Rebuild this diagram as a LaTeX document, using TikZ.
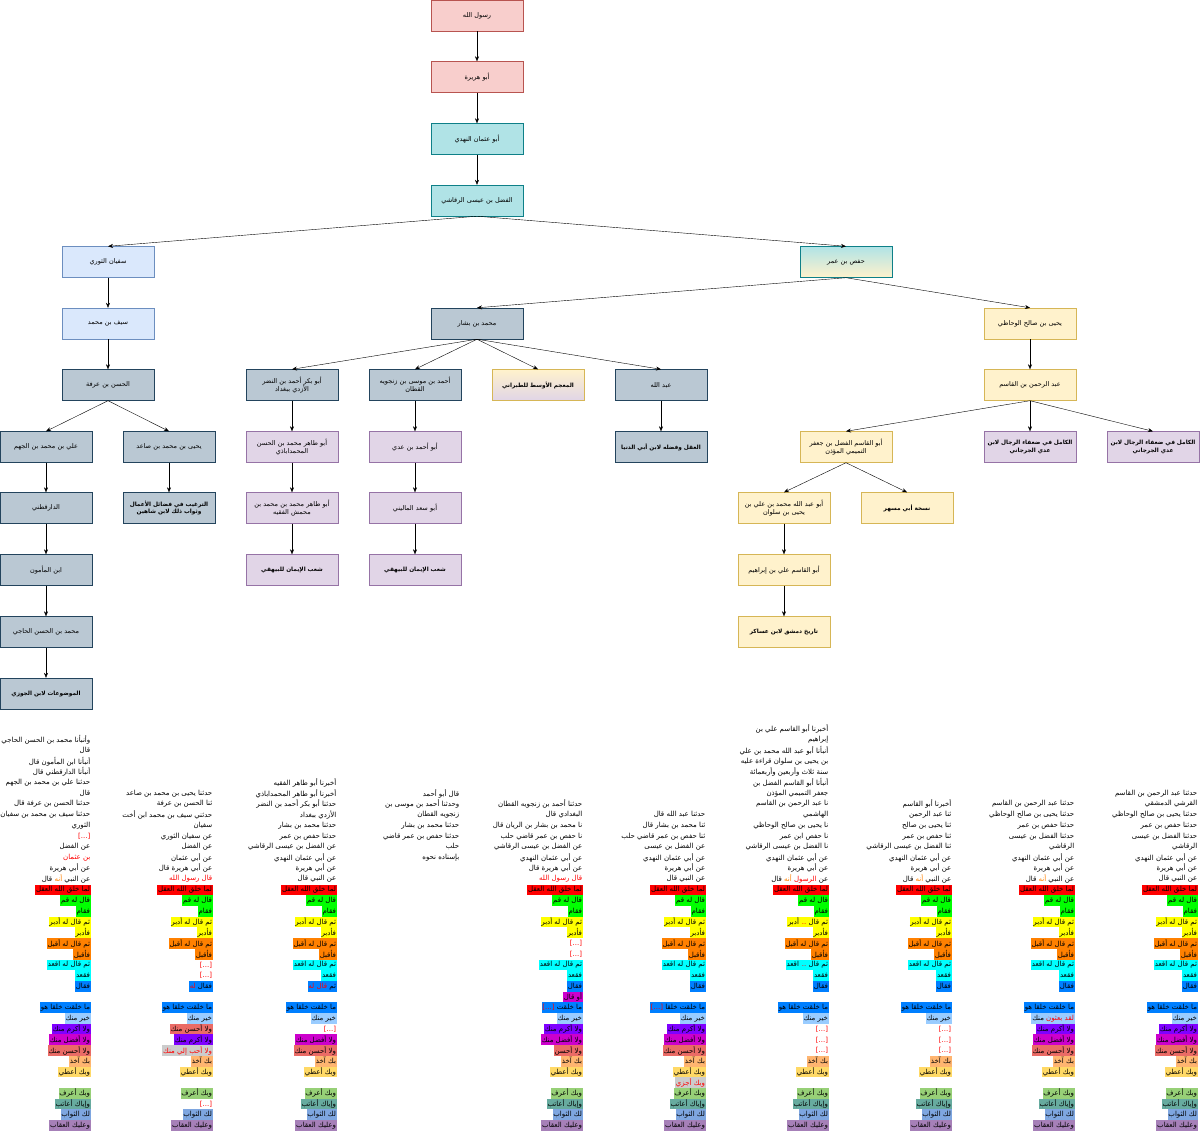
\documentclass[tikz,border=0pt]{standalone}
\usepackage{fontspec}
\usetikzlibrary{arrows.meta}
\newfontfamily\arab[Script=Arabic]{DejaVu Sans}
\TeXXeTstate=1
\newcommand{\ar}[1]{\beginR#1\endR}
\newcommand{\rd}[1]{{\addfontfeature{Color=FF0000}#1}}
\newcommand{\og}[1]{{\addfontfeature{Color=FF8000}#1}}
\newcommand{\brk}{\rd{[...]}}
\definecolor{pinkf}{HTML}{F8CECC}\definecolor{pinkd}{HTML}{B85450}
\definecolor{tealf}{HTML}{B0E3E6}\definecolor{teald}{HTML}{0E8088}
\definecolor{bluef}{HTML}{DAE8FC}\definecolor{blued}{HTML}{6C8EBF}
\definecolor{grayf}{HTML}{BAC8D3}\definecolor{grayd}{HTML}{23445D}
\definecolor{yelf}{HTML}{FFF2CC}\definecolor{yeld}{HTML}{D6B656}
\definecolor{purf}{HTML}{E1D5E7}\definecolor{purd}{HTML}{9673A6}
\definecolor{hred}{HTML}{FF0000}\definecolor{hgreen}{HTML}{00FF00}
\definecolor{hyellow}{HTML}{FFFF00}\definecolor{horange}{HTML}{FF8000}
\definecolor{hcyan}{HTML}{00FFFF}\definecolor{hblue}{HTML}{007FFF}
\definecolor{hlblue}{HTML}{99CCFF}\definecolor{hpurple}{HTML}{7F00FF}
\definecolor{hmag}{HTML}{CC00CC}\definecolor{hsalmon}{HTML}{EA6B66}
\definecolor{hlorange}{HTML}{FFB570}\definecolor{hlyellow}{HTML}{FFD966}
\definecolor{hlgreen}{HTML}{97D077}\definecolor{hteal}{HTML}{67AB9F}
\definecolor{hsteel}{HTML}{7EA6E0}\definecolor{hlilac}{HTML}{A680B8}
\definecolor{hgray}{HTML}{CCCCCC}
\tikzset{
  box/.style={draw=#1d,fill=#1f,minimum width=92pt,minimum height=31pt,text width=90pt,align=center,inner sep=1pt,font=\fontsize{6.5}{7.5}\arab},
  book/.style={box=#1,font=\fontsize{5.8}{7.5}\arab\bfseries},
  link/.style={-{Stealth[length=5pt,width=4pt]},black},
  isn/.style={anchor=east,inner sep=0.5pt,font=\fontsize{7}{8}\arab},
  hl/.style={anchor=east,fill=#1,inner xsep=0.8pt,inner ysep=0pt,minimum height=10.7pt,font=\fontsize{7}{8}\arab}
}
\foreach \r in {0,...,22,99}{\expandafter\xdef\csname sk\r\endcsname{0}}
\def\stdmatn{0/hred/لما خلق الله العقل,1/hgreen/قال له قم,2/hgreen/فقام,3/hyellow/ثم قال له أدبر,4/hyellow/فأدبر,5/horange/ثم قال له أقبل,6/horange/فأقبل,7/hcyan/ثم قال له اقعد,8/hcyan/فقعد,9/hblue/فقال,11/hblue/ما خلقت خلقا هو,12/hlblue/خير منك,13/hpurple/ولا أكرم منك,14/hmag/ولا أفضل منك,15/hsalmon/ولا أحسن منك,16/hlorange/بك آخذ,17/hlyellow/وبك أعطي,19/hlgreen/وبك أعرف,20/hteal/وإياك أعاتب,21/hsteel/لك الثواب,22/hlilac/وعليك العقاب}
% standard text of the hadith, skipping the rows given in #2
\newcommand{\matn}[2]{
  \foreach \r in {#2}{\expandafter\xdef\csname sk\r\endcsname{1}}
  \foreach \r/\c/\t in \stdmatn{
    \ifnum\csname sk\r\endcsname=0 \node[hl=\c] at (#1,{890+\r*10.7}) {\ar{\t}};\fi}
  \foreach \r in {#2}{\expandafter\xdef\csname sk\r\endcsname{0}}
}
% chain of narrators above the text, #2 lines, last one ending at y=#3
\newcommand{\isnad}[4]{
  \foreach \t [count=\i] in {#4}
    \node[isn] at (#1,{#3-(#2-\i)*10.7}) {\ar{\t}};
}
\newcommand{\row}[3]{\node[hl=#2] at (#1) {\ar{#3}};}
\begin{document}
\begin{tikzpicture}[x=1pt,y=-1pt]
\useasboundingbox (0,0) rectangle (1200,1144);
% tree of narrators
\node[box=pink] (rasul) at (477,15.5) {\ar{رسول الله}};
\node[box=pink] (hurayra) at (477,77) {\ar{أبو هريرة}};
\node[box=teal] (uthman) at (477,139) {\ar{أبو عثمان النهدي}};
\node[box=teal] (fadl) at (477,200.5) {\ar{الفضل بن عيسى الرقاشي}};
\node[box=blue] (sufyan) at (108,262) {\ar{سفيان الثوري}};
\node[box=teal,top color=tealf,bottom color=yelf] (hafs) at (846,262) {\ar{حفص بن عمر}};
\node[box=blue] (sayf) at (108,323.5) {\ar{سيف بن محمد}};
\node[box=gray] (bashar) at (477,323.5) {\ar{محمد بن بشار}};
\node[box=yel] (wuhazi) at (1030,323.5) {\ar{يحيى بن صالح الوحاظي}};
\node[box=gray] (arafa) at (108,385) {\ar{الحسن بن عرفة}};
\node[box=gray] (abubakr) at (292,385) {\ar{أبو بكر أحمد بن النضر}\\\ar{الأزدي ببغداد}};
\node[box=gray] (zanjawayh) at (415,385) {\ar{أحمد بن موسى بن زنجويه}\\\ar{القطان}};
\node[book=yel,top color=yelf,bottom color=purf] (muajam) at (538,385) {\ar{المعجم الأوسط للطبراني}};
\node[box=gray] (abdallah) at (661,385) {\ar{عبد الله}};
\node[box=yel] (qasim) at (1030,385) {\ar{عبد الرحمن بن القاسم}};
\node[box=gray] (jahm) at (46,447) {\ar{علي بن محمد بن الجهم}};
\node[box=gray] (saeid) at (169,447) {\ar{يحيى بن محمد بن صاعد}};
\node[box=pur] (tahira) at (292,447) {\ar{أبو طاهر محمد بن الحسن}\\\ar{المحمداباذي}};
\node[box=pur] (adi) at (415,447) {\ar{أبو أحمد بن عدي}};
\node[book=gray] (aql) at (661,447) {\ar{العقل وفضله لابن أبي الدنيا}};
\node[box=yel] (muadhdhin) at (846,447) {\ar{أبو القاسم الفضل بن جعفر}\\\ar{التميمي المؤذن}};
\node[book=pur] (kamila) at (1030,447) {\ar{الكامل في ضعفاء الرجال لابن}\\\ar{عدي الجرجاني}};
\node[book=pur] (kamilb) at (1153,447) {\ar{الكامل في ضعفاء الرجال لابن}\\\ar{عدي الجرجاني}};
\node[box=gray] (daraqutni) at (46,508) {\ar{الدارقطني}};
\node[book=gray] (targhib) at (169,508) {\ar{الترغيب في فضائل الأعمال}\\\ar{وثواب ذلك لابن شاهين}};
\node[box=pur] (tahirb) at (292,508) {\ar{أبو طاهر محمد بن محمد بن}\\\ar{محمش الفقيه}};
\node[box=pur] (malini) at (415,508) {\ar{أبو سعد الماليني}};
\node[box=yel] (salwan) at (784,508) {\ar{أبو عبد الله محمد بن علي بن}\\\ar{يحيى بن سلوان}};
\node[book=yel] (mushir) at (907,508) {\ar{نسخة أبي مسهر}};
\node[box=gray] (mamun) at (46,570) {\ar{ابن المأمون}};
\node[book=pur] (shuaba) at (292,570) {\ar{شعب الإيمان للبيهقي}};
\node[book=pur] (shuabb) at (415,570) {\ar{شعب الإيمان للبيهقي}};
\node[box=yel] (ibrahim) at (784,570) {\ar{أبو القاسم علي بن إبراهيم}};
\node[box=gray] (hajji) at (46,632) {\ar{محمد بن الحسن الحاجي}};
\node[book=yel] (tarikh) at (784,632) {\ar{تاريخ دمشق لابن عساكر}};
\node[book=gray] (mawduat) at (46,693.5) {\ar{الموضوعات لابن الجوزي}};
\foreach \a/\b in {rasul/hurayra,hurayra/uthman,uthman/fadl,fadl/sufyan,fadl/hafs,
  sufyan/sayf,sayf/arafa,arafa/jahm,arafa/saeid,jahm/daraqutni,daraqutni/mamun,
  mamun/hajji,hajji/mawduat,saeid/targhib,hafs/bashar,hafs/wuhazi,bashar/abubakr,
  bashar/zanjawayh,bashar/muajam,bashar/abdallah,abubakr/tahira,tahira/tahirb,
  tahirb/shuaba,zanjawayh/adi,adi/malini,malini/shuabb,abdallah/aql,wuhazi/qasim,
  qasim/muadhdhin,qasim/kamila,qasim/kamilb,muadhdhin/salwan,muadhdhin/mushir,
  salwan/ibrahim,ibrahim/tarikh}
  \draw[link] (\a.south) -- (\b.north);
% chains and texts
\isnad{91}{14}{879}{وأنبأنا محمد بن الحسن الحاجي,قال,أنبأنا ابن المأمون قال,أنبأنا الدارقطني قال,حدثنا علي بن محمد بن الجهم,قال,حدثنا الحسن بن عرفة قال,حدثنا سيف بن محمد بن سفيان,الثوري,\brk,عن الفضل,\rd{بن عثمان},عن أبي هريرة,عن النبي \og{أنه} قال}
\isnad{213}{9}{879}{حدثنا يحيى بن محمد بن صاعد,ثنا الحسن بن عرفة,حدثني سيف بن محمد ابن أخت,سفيان,عن سفيان الثوري,عن الفضل,عن أبي عثمان,عن أبي هريرة قال,\rd{قال رسول الله}}
\isnad{337}{10}{879}{أخبرنا أبو طاهر الفقيه,أخبرنا أبو طاهر المحمداباذي,حدثنا أبو بكر أحمد بن النضر,الأزدي ببغداد,حدثنا محمد بن بشار,حدثنا حفص بن عمر,عن الفضل بن عيسى الرقاشي,عن أبي عثمان النهدي,عن أبي هريرة,عن النبي قال}
\isnad{460}{7}{857.6}{قال أبو أحمد,وحدثنا أحمد بن موسى بن,زنجويه القطان,حدثنا محمد بن بشار,حدثنا حفص بن عمر قاضي,حلب,بإسناده نحوه}
\isnad{583}{8}{879}{حدثنا أحمد بن زنجويه القطان,البغدادي قال,نا محمد بن بشار بن الريان قال,نا حفص بن عمر قاضي حلب,عن الفضل بن عيسى الرقاشي,عن أبي عثمان النهدي,عن أبي هريرة قال,\rd{قال رسول الله}}
\isnad{706}{7}{879}{حدثنا عبد الله قال,ثنا محمد بن بشار قال,ثنا حفص بن عمر قاضي حلب,عن الفضل بن عيسى,عن أبي عثمان النهدي,عن أبي هريرة,عن النبي قال}
\isnad{829}{15}{879}{أخبرنا أبو القاسم علي بن,إبراهيم,أنبأنا أبو عبد الله محمد بن علي,بن يحيى بن سلوان قراءة عليه,سنة ثلاث وأربعين وأربعمائة,أنبأنا أبو القاسم الفضل بن,جعفر التميمي المؤذن,نا عبد الرحمن بن القاسم,الهاشمي,نا يحيى بن صالح الوحاظي,نا حفص ابن عمر,نا الفضل بن عيسى الرقاشي,عن أبي عثمان النهدي,عن أبي هريرة,عن \rd{الرسول} \og{أنه} قال}
\isnad{952}{8}{879}{أخبرنا أبو القاسم,ثنا عبد الرحمن,ثنا يحيى بن صالح,ثنا حفص بن عمر,ثنا الفضل بن عيسى الرقاشي,عن أبي عثمان النهدي,عن أبي هريرة,عن النبي \og{أنه} قال}
\isnad{1075}{8}{879}{حدثنا عبد الرحمن بن القاسم,حدثنا يحيى بن صالح الوحاظي,حدثنا حفص بن عمر,حدثنا الفضل بن عيسى,الرقاشي,عن أبي عثمان النهدي,عن أبي هريرة,عن النبي \og{أنه} قال}
\isnad{1198}{9}{879}{حدثنا عبد الرحمن بن القاسم,القرشي الدمشقي,حدثنا يحيى بن صالح الوحاظي,حدثنا حفص بن عمر,حدثنا الفضل بن عيسى,الرقاشي,عن أبي عثمان النهدي,عن أبي هريرة,عن النبي قال}
\matn{91}{99}
\matn{213}{7,8,9,13,14,15,20}
\row{213,964.9}{white}{\brk}\row{213,975.6}{white}{\brk}
\row{213,986.3}{hblue}{فقال \rd{له}}
\row{213,1029.1}{hsalmon}{ولا أحسن منك}\row{213,1039.8}{hpurple}{ولا أكرم منك}
\row{213,1050.5}{hgray}{\rd{ولا أحب إلي منك}}\row{213,1104}{white}{\brk}
\matn{337}{9,13}
\row{337,986.3}{hblue}{ثم \rd{قال له}}\row{337,1029.1}{white}{\brk}
\matn{583}{5,6,11,15}
\row{583,943.5}{white}{\brk}\row{583,954.2}{white}{\brk}
\row{583,997}{hmag}{أو قال}\row{583,1007.7}{hblue}{ما خلقت \brk}
\row{583,1050.5}{hsalmon}{ولا أحسن}
\matn{706}{11}
\row{706,1007.7}{hblue}{ما خلقت خلقا \brk}\row{706,1082.6}{hgray}{\rd{وبك أجزي}}
\matn{829}{3,7,13,14,15}
\row{829,922.1}{hyellow}{ثم قال \rd{..} أدبر}\row{829,964.9}{hcyan}{ثم قال \rd{..} اقعد}
\row{829,1029.1}{white}{\brk}\row{829,1039.8}{white}{\brk}\row{829,1050.5}{white}{\brk}
\matn{952}{13,14,15}
\row{952,1029.1}{white}{\brk}\row{952,1039.8}{white}{\brk}\row{952,1050.5}{white}{\brk}
\matn{1075}{12}
\row{1075,1018.4}{hlblue}{\rd{لقد بعثون} منك}
\matn{1198}{99}
\end{tikzpicture}
\end{document}
